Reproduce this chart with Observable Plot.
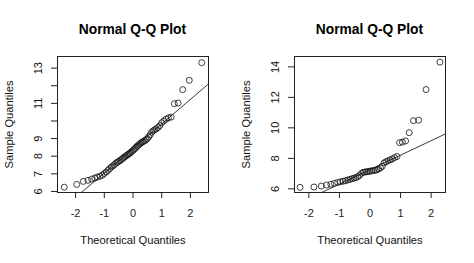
<!DOCTYPE html>
<html><head><meta charset="utf-8">
<script src="https://cdn.jsdelivr.net/npm/d3@7"></script>
<script src="https://cdn.jsdelivr.net/npm/@observablehq/plot@0.6"></script>
<style>
html,body{margin:0;padding:0;background:#fff;}
#root{position:relative;width:474px;height:263px;overflow:hidden;font-family:"Liberation Sans",Arial,sans-serif;}
.panel{position:absolute;top:0;width:237px;height:263px;}
.title{position:absolute;left:57px;width:151px;top:22px;text-align:center;font-weight:bold;font-size:13.8px;line-height:16px;color:#000;white-space:nowrap;}
.chart{position:absolute;left:0;top:45px;}
</style></head><body><div id="root"></div>
<script>
const titles = ["Normal Q-Q Plot", "Normal Q-Q Plot"];
const xLabel = "Theoretical Quantiles";
const yLabel = "Sample Quantiles";
const xTicks = [-2, -1, 0, 1, 2];
const leftYTicks = [6, 7, 8, 9, 10, 11, 12, 13];
const leftYTickLabels = [6, 7, 8, 9, 11, 13];
const rightYTicks = [6, 8, 10, 12, 14];
const rightYTickLabels = [6, 8, 10, 12, 14];

const leftTheoretical = [-2.394,-1.960,-1.732,-1.569,-1.440,-1.331,-1.235,-1.150,-1.073,-1.001,
  -0.935,-0.872,-0.812,-0.755,-0.701,-0.649,-0.598,-0.549,-0.501,-0.454,
  -0.408,-0.363,-0.319,-0.275,-0.232,-0.189,-0.147,-0.105,-0.063,-0.021,
  0.021,0.063,0.105,0.147,0.189,0.232,0.275,0.319,0.363,0.408,
  0.454,0.501,0.549,0.598,0.649,0.701,0.755,0.812,0.872,0.935,
  1.001,1.073,1.150,1.235,1.331,1.440,1.569,1.732,1.960,2.394];
const leftSample = [6.24,6.40,6.57,6.63,6.70,6.76,6.82,6.86,6.92,7.02,
  7.10,7.20,7.30,7.38,7.45,7.52,7.60,7.66,7.70,7.75,
  7.81,7.87,7.93,7.98,8.03,8.08,8.13,8.18,8.24,8.30,
  8.36,8.43,8.50,8.57,8.63,8.69,8.75,8.80,8.84,8.88,
  8.94,9.00,9.10,9.22,9.36,9.44,9.50,9.56,9.63,9.74,
  9.90,10.00,10.10,10.18,10.22,10.98,11.02,11.78,12.31,13.31];

const rightTheoretical = [-2.287,-1.834,-1.593,-1.420,-1.282,-1.164,-1.060,-0.967,-0.882,-0.802,
  -0.728,-0.657,-0.589,-0.524,-0.461,-0.400,-0.341,-0.282,-0.225,-0.168,
  -0.112,-0.056,0,0.056,0.112,0.168,0.225,0.282,0.341,0.400,
  0.461,0.524,0.589,0.657,0.728,0.802,0.882,0.967,1.060,1.164,
  1.282,1.420,1.593,1.834,2.287];
const rightSample = [6.10,6.12,6.18,6.25,6.30,6.36,6.42,6.46,6.50,6.53,
  6.58,6.62,6.66,6.70,6.74,6.80,6.88,7.02,7.08,7.10,
  7.12,7.14,7.16,7.18,7.20,7.22,7.25,7.30,7.38,7.48,
  7.70,7.78,7.84,7.90,7.96,8.05,8.12,9.03,9.06,9.14,
  9.68,10.47,10.50,12.51,14.31];

const lineProbs = [0.25, 0.75];
const normalQuartiles = [-0.6745, 0.6745];

const FONT = '"Liberation Sans", Arial, sans-serif';

function panel(theo, samp, xDomain, yDomain, yTicks, yTickLabels) {
  const q1 = d3.quantile(samp, lineProbs[0]);
  const q3 = d3.quantile(samp, lineProbs[1]);
  const slope = (q3 - q1) / (normalQuartiles[1] - normalQuartiles[0]);
  const intercept = q1 - slope * normalQuartiles[0];
  const lineData = xDomain.map(x => ({x, y: intercept + slope * x}));
  const points = theo.map((x, i) => ({x, y: samp[i]}));
  return Plot.plot({
    width: 237, height: 218,
    marginTop: 11, marginBottom: 71, marginLeft: 57, marginRight: 29,
    style: {fontFamily: FONT, fontSize: "11px", color: "#222", background: "white", overflow: "visible"},
    x: {domain: xDomain, ticks: xTicks, tickFormat: d => String(d), tickSize: 6, tickPadding: 11, label: null},
    y: {domain: yDomain, ticks: yTicks, tickFormat: () => "", tickSize: 6, label: null},
    marks: [
      Plot.line(lineData, {x: "x", y: "y", stroke: "#222", strokeWidth: 0.9, clip: true}),
      Plot.dot(points, {x: "x", y: "y", r: 3, stroke: "#111", strokeWidth: 0.8, fill: "none"}),
      Plot.frame({stroke: "#222"}),
      Plot.text(yTickLabels, {y: d => d, text: d => String(d), frameAnchor: "left", rotate: -90, dx: -18.8, fontSize: 11, fill: "#111", textAnchor: "middle", lineAnchor: "middle"}),
      Plot.text([xLabel], {frameAnchor: "bottom", dy: 48.4, fontSize: 11.15, fill: "#111", textAnchor: "middle", lineAnchor: "middle"}),
      Plot.text([yLabel], {frameAnchor: "left", rotate: -90, dx: -47.6, fontSize: 11.15, fill: "#111", textAnchor: "middle", lineAnchor: "middle"})
    ]
  });
}

const root = document.getElementById("root");
const specs = [
  {left: 0, title: titles[0], chart: panel(leftTheoretical, leftSample, [-2.63, 2.63], [5.94, 13.66], leftYTicks, leftYTickLabels)},
  {left: 237, title: titles[1], chart: panel(rightTheoretical, rightSample, [-2.47, 2.47], [5.76, 14.68], rightYTicks, rightYTickLabels)}
];
for (const s of specs) {
  const p = document.createElement("div");
  p.className = "panel";
  p.style.left = s.left + "px";
  const t = document.createElement("div");
  t.className = "title";
  t.textContent = s.title;
  const c = document.createElement("div");
  c.className = "chart";
  c.appendChild(s.chart);
  p.appendChild(t);
  p.appendChild(c);
  root.appendChild(p);
}
</script></body></html>
